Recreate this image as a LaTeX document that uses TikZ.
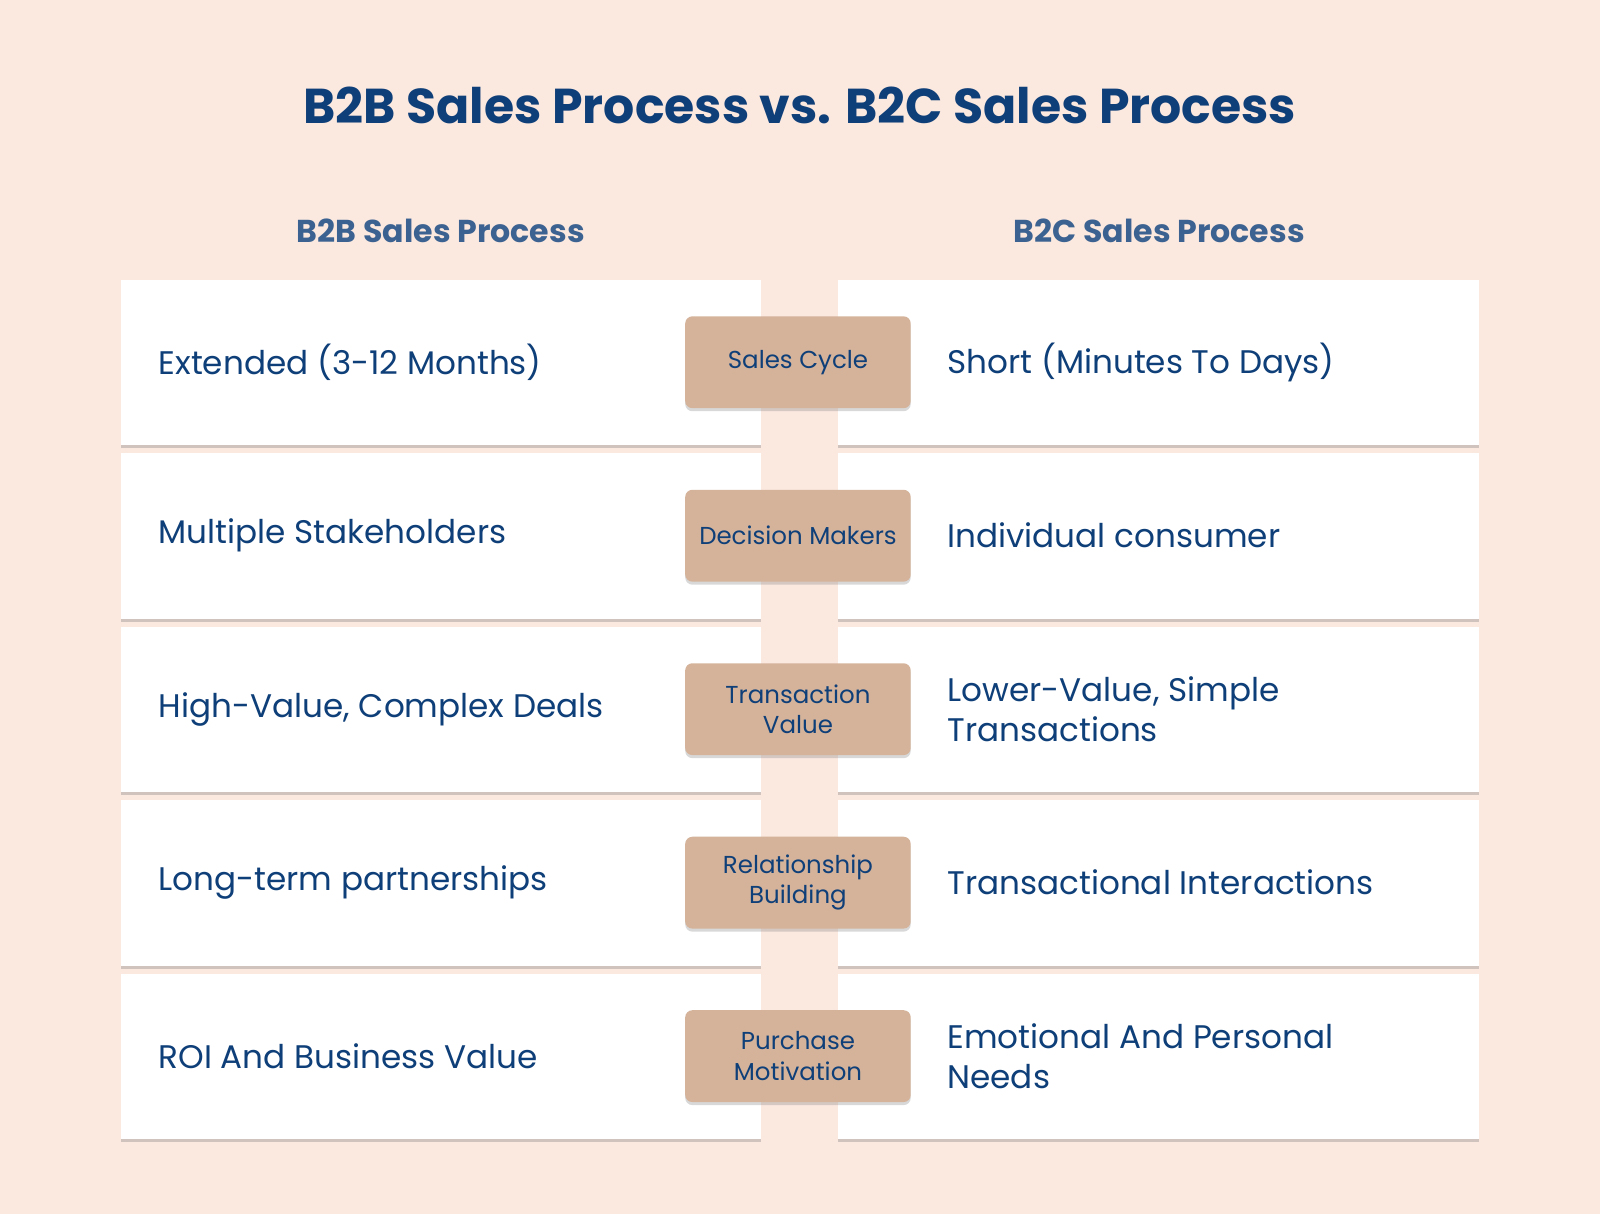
\documentclass[tikz,border=0pt]{standalone}
\usepackage{fontspec}
\setmainfont{Poppins}
\usetikzlibrary{shadows}
\definecolor{bg}{HTML}{FBE8DF}
\definecolor{navy}{HTML}{0F3F78}
\definecolor{hdr}{HTML}{3B6290}
\definecolor{tan}{HTML}{D4B39A}
\tikzset{
 card/.style={fill=white,draw=none,minimum width=628pt,minimum height=162pt,anchor=north west,drop shadow={shadow xshift=0pt,shadow yshift=-3pt,opacity=0.35}},
 ctext/.style={anchor=west,text=navy,font=\fontsize{32}{39}\selectfont,align=left},
 lab/.style={fill=tan,rounded corners=7pt,minimum width=221pt,minimum height=90pt,text=navy,font=\fontsize{24}{30}\selectfont,align=center,drop shadow={shadow xshift=0pt,shadow yshift=-3pt,opacity=0.3}},
 hd/.style={text=hdr,font=\fontsize{31}{36}\selectfont\bfseries}
}
\begin{document}
\begin{tikzpicture}[x=1pt,y=-1pt]
\fill[bg] (0,0) rectangle (1568,1190);
\useasboundingbox (0,0) rectangle (1568,1190);
\node[text=navy,font=\fontsize{48}{54}\selectfont\bfseries] (title) at (784,103) {B2B Sales Process vs. B2C Sales Process};
\node[hd] (hl) at (432,226) {B2B Sales Process};
\node[hd] (hr) at (1136,226) {B2C Sales Process};
\foreach \i/\l/\c/\r in {0/{Extended (3-12 Months)}/{Sales Cycle}/{Short (Minutes To Days)},
 1/{Multiple Stakeholders}/{Decision Makers}/{Individual consumer},
 2/{High-Value, Complex Deals}/{Transaction\\Value}/{Lower-Value, Simple\\Transactions},
 3/{Long-term partnerships}/{Relationship\\Building}/{Transactional Interactions},
 4/{ROI And Business Value}/{Purchase\\Motivation}/{Emotional And Personal\\Needs}}{
 \node[card] (L\i) at (118,274+170*\i) {};
 \node[card] (R\i) at (821,274+170*\i) {};
 \node[ctext] (LT\i) at (152,355+170*\i) {\l};
 \node[ctext] (RT\i) at (925,355+170*\i) {\r};
 \node[lab] (C\i) at (782,355+170*\i) {\c};
}
\end{tikzpicture}
\end{document}
